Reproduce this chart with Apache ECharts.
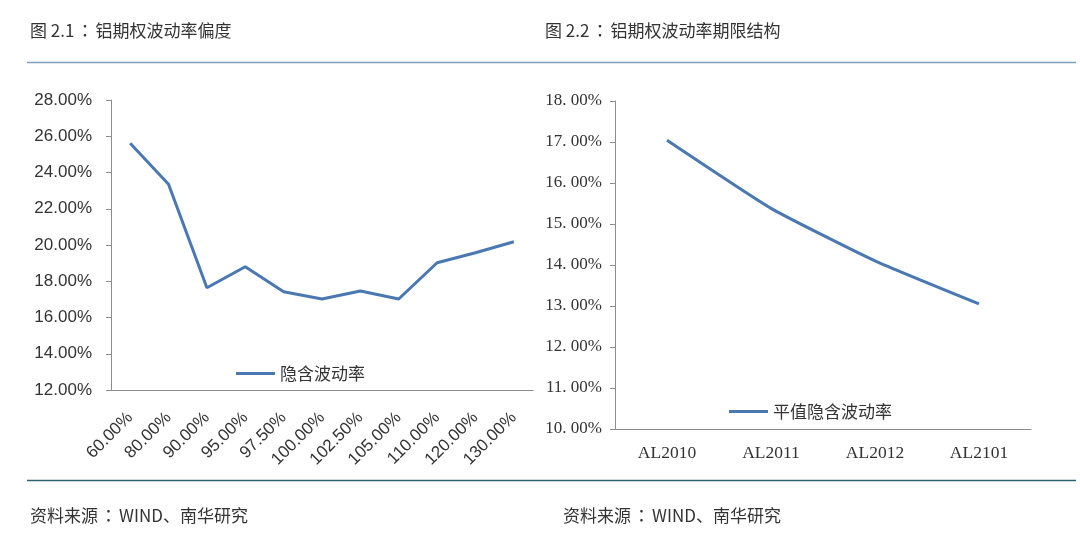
<!DOCTYPE html>
<html>
<head>
<meta charset="utf-8">
<script src="https://cdn.jsdelivr.net/npm/echarts@6/dist/echarts.min.js"></script>
<style>
  html, body { margin: 0; padding: 0; background: #fff; }
  #chart { width: 1080px; height: 535px; }
</style>
</head>
<body>
<div id="chart"></div>
<script>
// 图 2.1 铝期权波动率偏度
const strikes = ['60.00%', '80.00%', '90.00%', '95.00%', '97.50%', '100.00%', '102.50%', '105.00%', '110.00%', '120.00%', '130.00%'];
const skewVol = [25.61, 23.35, 17.64, 18.8, 17.42, 17.02, 17.46, 17.02, 19.02, 19.57, 20.18];

// 图 2.2 铝期权波动率期限结构
const contracts = ['AL2010', 'AL2011', 'AL2012', 'AL2101'];
const atmVol = [17.04, 15.38, 14.1, 13.05];

const lineColor = '#4a78b2';
const axisColor = '#8c8c8c';
const cjk = '"Noto Sans CJK SC", "Noto Sans", sans-serif';
// 冒号居中的字形用繁体字体
const headStyle = {
    fontSize: 17, fontWeight: 'normal', color: '#333', fontFamily: cjk,
    rich: {c: {fontSize: 17, color: '#333', fontFamily: '"Noto Sans CJK TC"', padding: [0, 2, 0, 2]}}
};

const chart = echarts.init(document.getElementById('chart'));

const option = {
    backgroundColor: '#fff',
    animation: false,
    title: [
        {text: '图 2.1{c|：}铝期权波动率偏度', left: 30, top: 22, padding: 0, textStyle: headStyle},
        {text: '图 2.2{c|：}铝期权波动率期限结构', left: 545, top: 22, padding: 0, textStyle: headStyle},
        {text: '资料来源{c|：}WIND、南华研究', left: 30, top: 507, padding: 0, textStyle: headStyle},
        {text: '资料来源{c|：}WIND、南华研究', left: 563, top: 507, padding: 0, textStyle: headStyle}
    ],
    graphic: [
        {type: 'line', shape: {x1: 27, y1: 62.5, x2: 1076, y2: 62.5}, style: {stroke: '#7f9fbb', lineWidth: 1.5}},
        {type: 'line', shape: {x1: 27, y1: 480.5, x2: 1076, y2: 480.5}, style: {stroke: '#2f5f74', lineWidth: 1.5}}
    ],
    legend: [
        {
            data: ['隐含波动率'], left: 231, top: 360, icon: 'rect',
            itemWidth: 39, itemHeight: 3, itemGap: 4,
            textStyle: {fontSize: 17, color: '#333', fontFamily: cjk}
        },
        {
            data: ['平值隐含波动率'], left: 724, top: 398, icon: 'rect',
            itemWidth: 39, itemHeight: 3, itemGap: 4,
            textStyle: {fontSize: 17, color: '#333', fontFamily: cjk}
        }
    ],
    grid: [
        {left: 111, right: 547, top: 100, bottom: 145},
        {left: 615, right: 49, top: 101, bottom: 106}
    ],
    xAxis: [
        {
            type: 'category', gridIndex: 0, data: strikes, boundaryGap: true,
            axisLine: {lineStyle: {color: axisColor}},
            axisTick: {length: 5, lineStyle: {color: axisColor}},
            axisLabel: {rotate: 45, margin: 25, interval: 0, fontSize: 17, color: '#333', fontFamily: 'Liberation Sans, sans-serif'}
        },
        {
            type: 'category', gridIndex: 1, data: contracts, boundaryGap: true,
            axisLine: {lineStyle: {color: axisColor}},
            axisTick: {length: 5, lineStyle: {color: axisColor}},
            axisLabel: {margin: 15, fontSize: 17.5, color: '#333', fontFamily: '"Liberation Serif", "DejaVu Serif", serif'}
        }
    ],
    yAxis: [
        {
            type: 'value', gridIndex: 0, min: 12, max: 28, interval: 2,
            splitLine: {show: false},
            axisLine: {show: true, lineStyle: {color: axisColor}},
            axisTick: {show: true, length: 5, lineStyle: {color: axisColor}},
            axisLabel: {margin: 19, fontSize: 17, color: '#333', fontFamily: 'Liberation Sans, sans-serif',
                formatter: v => v.toFixed(2) + '%'}
        },
        {
            type: 'value', gridIndex: 1, min: 10, max: 18, interval: 1,
            splitLine: {show: false},
            axisLine: {show: true, lineStyle: {color: axisColor}},
            axisTick: {show: true, length: 5, lineStyle: {color: axisColor}},
            axisLabel: {margin: 13, fontSize: 17, color: '#333', fontFamily: '"Liberation Serif", "DejaVu Serif", serif',
                formatter: v => v.toFixed(2).replace('.', '. ') + '%'}
        }
    ],
    series: [
        {
            name: '隐含波动率', type: 'line', xAxisIndex: 0, yAxisIndex: 0,
            data: skewVol, showSymbol: false, symbol: 'none',
            lineStyle: {color: lineColor, width: 3}, itemStyle: {color: lineColor}
        },
        {
            name: '平值隐含波动率', type: 'line', xAxisIndex: 1, yAxisIndex: 1,
            data: atmVol, showSymbol: false, symbol: 'none', smooth: 0.15,
            lineStyle: {color: lineColor, width: 3}, itemStyle: {color: lineColor}
        }
    ]
};

chart.setOption(option);
</script>
</body>
</html>
